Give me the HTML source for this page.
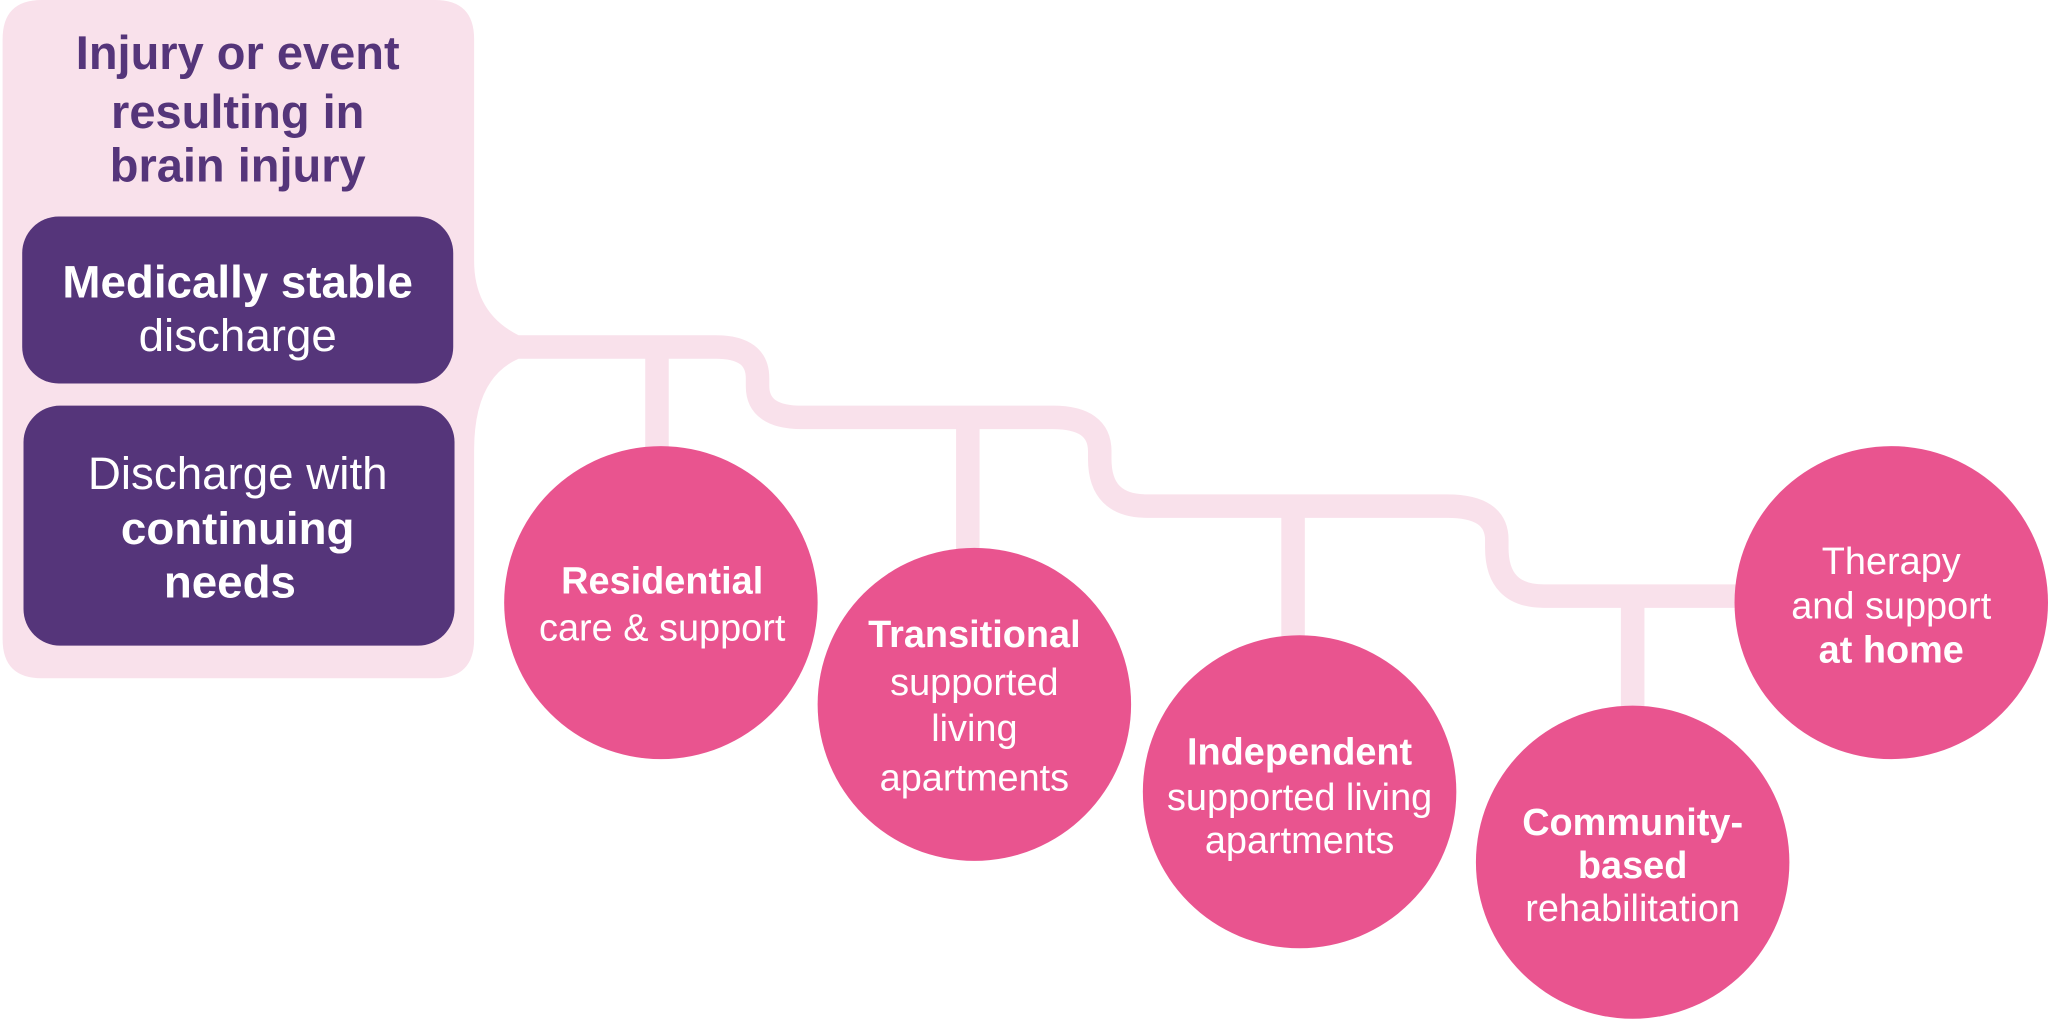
<!DOCTYPE html>
<html><head><meta charset="utf-8"><style>
html,body{margin:0;padding:0;background:#fff;}
svg{display:block;}
text{font-family:"Liberation Sans",sans-serif;text-anchor:middle;}
.b{font-weight:bold;}
</style></head><body>
<svg width="2048" height="1020" viewBox="0 0 1568 782" preserveAspectRatio="none" xmlns="http://www.w3.org/2000/svg">
<rect width="1568" height="782" fill="#fff"/>
<path d="M32,0 H333 Q363,0 363,30 V200 Q363,240 397,257 V275 Q363,290 363,345 V490 Q363,520 333,520 H32 Q2,520 2,490 V30 Q2,0 32,0 Z" fill="#F9E1EB"/>
<path d="M380,266 H548 Q580,266 580,290 V296 Q580,320 614,320 H806 Q842,320 842,346 V352 Q842,388 878,388 H1108 Q1146,388 1146,414 V420 Q1146,457 1182,457 H1340" fill="none" stroke="#F9E1EB" stroke-width="18"/>
<g stroke="#F9E1EB" stroke-width="18">
<line x1="503" y1="272" x2="503" y2="350"/>
<line x1="741" y1="326" x2="741" y2="430"/>
<line x1="990" y1="394" x2="990" y2="495"/>
<line x1="1250" y1="463" x2="1250" y2="550"/>
</g>
<rect x="17" y="166" width="330" height="128" rx="28" fill="#55357A"/>
<rect x="18" y="311" width="330" height="184" rx="28" fill="#55357A"/>
<g fill="#55357A" font-size="36">
<text x="182" y="53" class="b">Injury or event</text>
<text x="182" y="98" class="b">resulting in</text>
<text x="182" y="139" class="b">brain injury</text>
</g>
<g fill="#fff" font-size="35">
<text x="182" y="228" class="b">Medically stable</text>
<text x="182" y="269">discharge</text>
<text x="182" y="375">Discharge with</text>
<text x="182" y="417" class="b">continuing</text>
<text x="176" y="458" class="b">needs</text>
</g>
<g fill="#E9548F">
<circle cx="506" cy="462" r="120"/>
<circle cx="746" cy="540" r="120"/>
<circle cx="995" cy="607" r="120"/>
<circle cx="1250" cy="661" r="120"/>
<circle cx="1448" cy="462" r="120"/>
</g>
<g fill="#fff" font-size="29">
<text x="507" y="455" class="b">Residential</text>
<text x="507" y="491">care &amp; support</text>
<text x="746" y="496" class="b">Transitional</text>
<text x="746" y="533">supported</text>
<text x="746" y="568">living</text>
<text x="746" y="606">apartments</text>
<text x="995" y="586" class="b">Independent</text>
<text x="995" y="621">supported living</text>
<text x="995" y="654">apartments</text>
<text x="1250" y="640" class="b">Community-</text>
<text x="1250" y="673" class="b">based</text>
<text x="1250" y="706">rehabilitation</text>
<text x="1448" y="440">Therapy</text>
<text x="1448" y="474">and support</text>
<text x="1448" y="508" class="b">at home</text>
</g>
</svg>
</body></html>
